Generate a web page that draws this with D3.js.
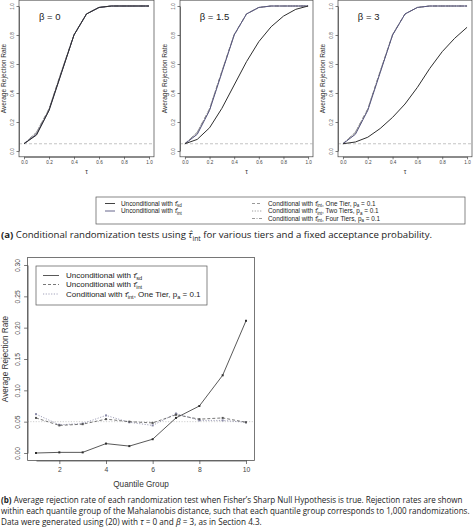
<!DOCTYPE html>
<html><head><meta charset="utf-8">
<script src="https://cdn.jsdelivr.net/npm/d3@7"></script>
<style>body{margin:0;background:#fff}svg{display:block}</style>
</head><body>
<svg id="c" width="474" height="529"></svg>
<script>
// ---------- data: top panels ----------
const tau = [0, 0.1, 0.2, 0.3, 0.4, 0.5, 0.6, 0.7, 0.8, 0.9, 1.0];
const betaLabels = ["β = 0", "β = 1.5", "β = 3"];
const tauTicks = [0, 0.2, 0.4, 0.6, 0.8, 1.0];
const rateTicks = [0, 0.2, 0.4, 0.6, 0.8, 1.0];
const sdBeta0   = [0.05, 0.11, 0.28, 0.54, 0.80, 0.945, 0.99, 1, 1, 1, 1];
const sdBeta15  = [0.05, 0.08, 0.16, 0.294, 0.455, 0.616, 0.754, 0.857, 0.93, 0.977, 1.0];
const sdBeta3   = [0.05, 0.062, 0.095, 0.155, 0.232, 0.324, 0.439, 0.57, 0.685, 0.777, 0.853];
const intAll    = [0.05, 0.115, 0.28, 0.54, 0.80, 0.945, 0.99, 1, 1, 1, 1];
const cond1All  = [0.05, 0.128, 0.29, 0.55, 0.80, 0.945, 0.99, 1, 1, 1, 1];
const cond2All  = [0.05, 0.12, 0.285, 0.545, 0.80, 0.945, 0.99, 1, 1, 1, 1];
const cond4All  = [0.05, 0.13, 0.29, 0.55, 0.805, 0.945, 0.99, 1, 1, 1, 1];
const nullRate = 0.05;

// ---------- data: bottom panel ----------
const quantileGroups = [1, 2, 3, 4, 5, 6, 7, 8, 9, 10];
const qTicks = [2, 4, 6, 8, 10];
const bRateTicks = [0, 0.05, 0.10, 0.15, 0.20, 0.25, 0.30];
const qSd   = [0.000, 0.001, 0.001, 0.015, 0.011, 0.022, 0.056, 0.075, 0.124, 0.211];
const qInt  = [0.056, 0.044, 0.046, 0.054, 0.050, 0.048, 0.061, 0.054, 0.056, 0.049];
const qCond = [0.062, 0.045, 0.047, 0.060, 0.049, 0.044, 0.063, 0.052, 0.052, 0.049];

// ---------- drawing ----------
const svg = d3.select("#c");
const AX = "'Liberation Sans', Arial, Helvetica, sans-serif";
const CAP = "'Open Sans', 'Noto Sans', sans-serif";
const C_SD = "#2e2e2e", C_INT = "#56557f", C_COND = "#8f8f8f";

const panelBoxes = [[19, 154], [180, 313], [338, 472]];
const sdSets = [sdBeta0, sdBeta15, sdBeta3];

function styleAxis(g, fs) {
  g.selectAll("path.domain").attr("stroke", "#444").attr("stroke-width", 0.7);
  g.selectAll(".tick line").attr("stroke", "#444").attr("stroke-width", 0.7);
  g.selectAll("text").attr("font-family", AX).attr("font-size", fs).attr("fill", "#444");
}

panelBoxes.forEach((b, i) => {
  const pad = (b[1] - b[0]) * 0.04 / 1.08;
  const x = d3.scaleLinear().domain([0, 1]).range([b[0] + pad, b[1] - pad]);
  const y = d3.scaleLinear().domain([0, 1]).range([151, 6]);
  const g = svg.append("g");
  const top = y(1.04), bot = y(-0.04);
  g.append("rect").attr("x", b[0]).attr("y", top).attr("width", b[1] - b[0]).attr("height", bot - top)
    .attr("fill", "none").attr("stroke", "#444").attr("stroke-width", 0.7);
  g.append("line").attr("x1", b[0]).attr("x2", b[1]).attr("y1", y(nullRate)).attr("y2", y(nullRate))
    .attr("stroke", "#aaa").attr("stroke-width", 0.7).attr("stroke-dasharray", "3,2");
  const line = d3.line().x((d, k) => x(tau[k])).y(d => y(d));
  [[cond1All, "4,2.5"], [cond2All, "1.2,1.5"], [cond4All, "4,1.5,1,1.5"]].forEach(([s, da]) => {
    g.append("path").attr("d", line(s)).attr("fill", "none").attr("stroke", C_COND)
      .attr("stroke-width", 0.9).attr("stroke-dasharray", da);
  });
  g.append("path").attr("d", line(intAll)).attr("fill", "none").attr("stroke", C_INT).attr("stroke-width", 1);
  g.append("path").attr("d", line(sdSets[i])).attr("fill", "none").attr("stroke", C_SD).attr("stroke-width", 1);

  const xa = g.append("g").attr("transform", `translate(0,${bot})`)
    .call(d3.axisBottom(x).tickValues(tauTicks).tickFormat(d3.format(".1f")).tickSize(2.5).tickSizeOuter(0).tickPadding(1.8));
  styleAxis(xa, 4.6);
  const ya = g.append("g").attr("transform", `translate(${b[0]},0)`)
    .call(d3.axisLeft(y).tickValues(rateTicks).tickFormat(d3.format(".1f")).tickSize(2.5).tickSizeOuter(0));
  styleAxis(ya, 4.6);
  ya.selectAll("text").attr("x", null).attr("dy", null).attr("text-anchor", "middle")
    .attr("transform", "translate(-5,0) rotate(-90)");
  g.append("text").attr("transform", `translate(${b[0] - 13},${(top + bot) / 2}) rotate(-90)`)
    .attr("text-anchor", "middle").attr("font-family", AX).attr("font-size", 6.6).attr("fill", "#333")
    .text("Average Rejection Rate");
  g.append("text").attr("x", (b[0] + b[1]) / 2).attr("y", 174).attr("text-anchor", "middle")
    .attr("font-family", AX).attr("font-size", 6.5).attr("fill", "#333").text("τ");
  g.append("text").attr("x", x(0.12)).attr("y", 19.5).attr("font-family", AX).attr("font-size", 9.5)
    .attr("fill", "#222").text(betaLabels[i]);
});

// subscript helpers (dy based)
function sub(t, s) {
  t.append("tspan").attr("class", "s").attr("dy", "0.4em").attr("font-size", "70%").text(s);
}
function after(t, s) {
  t.append("tspan").attr("dy", "-0.28em").text(s);
}
function tauHat(t, s) {
  t.append("tspan").attr("font-style", "italic").text("τ̂");
  sub(t, s);
}

// ---------- top legend ----------
{
  const g = svg.append("g");
  g.append("rect").attr("x", 96).attr("y", 197).attr("width", 369).attr("height", 27)
    .attr("fill", "#fff").attr("stroke", "#555").attr("stroke-width", 0.7);
  const fs = 6.4;
  const items = [
    {x: 105, y: 203.5, c: C_SD, da: null, pre: "Unconditional with ", sub: "sd", post: ""},
    {x: 105, y: 211, c: C_INT, da: null, pre: "Unconditional with ", sub: "int", post: ""},
    {x: 252, y: 203.5, c: C_COND, da: "3,2", pre: "Conditional with ", sub: "int", post: ", One Tier, "},
    {x: 252, y: 211, c: C_COND, da: "1.2,1.5", pre: "Conditional with ", sub: "int", post: ", Two Tiers, "},
    {x: 252, y: 218.5, c: C_COND, da: "3,1.5,1,1.5", pre: "Conditional with ", sub: "int", post: ", Four Tiers, "}
  ];
  items.forEach(it => {
    g.append("line").attr("x1", it.x).attr("x2", it.x + 10).attr("y1", it.y).attr("y2", it.y)
      .attr("stroke", it.c).attr("stroke-width", 0.9).attr("stroke-dasharray", it.da);
    const t = g.append("text").attr("x", it.x + 16).attr("y", it.y + 2.2)
      .attr("font-family", AX).attr("font-size", fs).attr("fill", "#222");
    t.append("tspan").text(it.pre);
    tauHat(t, it.sub);
    if (it.post) {
      after(t, it.post + "p");
      sub(t, "a");
      after(t, " = 0.1");
    }
  });
}

// ---------- caption fitting ----------
function fitCaption(t, target) {
  const w = t.node().getComputedTextLength();
  const fs = +t.attr("font-size");
  t.attr("font-size", fs * target / w);
}
function capLine(y, label, parts) {
  const t = svg.append("text").attr("x", 1).attr("y", y).attr("font-family", CAP).attr("font-size", 10).attr("fill", "#222");
  if (label) t.append("tspan").attr("font-weight", "bold").text(label);
  parts.forEach(p => {
    if (typeof p === "string") t.append("tspan").text(p);
    else if (p.it) t.append("tspan").attr("font-style", "italic").text(p.it);
    else if (p.sub) sub(t, p.sub);
    else after(t, p.after);
  });
  return t;
}
fitCaption(capLine(238, "(a) ", ["Conditional randomization tests using ", {it: "τ̂"}, {sub: "int"}, {after: " for various tiers and a fixed acceptance probability."}]), 432);

// ---------- bottom panel ----------
{
  const x = d3.scaleLinear().domain([1, 10]).range([36, 246]);
  const y = d3.scaleLinear().domain([0, 0.30]).range([453, 265]);
  const L = x(1 - 0.36), R = x(10 + 0.36), T = y(0.312), B = y(-0.012);
  const g = svg.append("g");
  g.append("rect").attr("x", L).attr("y", T).attr("width", R - L).attr("height", B - T)
    .attr("fill", "none").attr("stroke", "#555").attr("stroke-width", 0.8);
  g.append("line").attr("x1", L).attr("x2", R).attr("y1", y(nullRate)).attr("y2", y(nullRate))
    .attr("stroke", "#c4c4c4").attr("stroke-width", 0.8).attr("stroke-dasharray", "1.2,1.5");
  const line = d3.line().x((d, k) => x(quantileGroups[k])).y(d => y(d));
  [[qCond, "#8a8aa8", "1.2,1.5"], [qInt, "#555", "3,2"], [qSd, "#2e2e2e", null]].forEach(([s, c, da]) => {
    g.append("path").attr("d", line(s)).attr("fill", "none").attr("stroke", c).attr("stroke-width", 0.8)
      .attr("stroke-dasharray", da);
    g.selectAll(null).data(s).enter().append("rect")
      .attr("x", (d, k) => x(quantileGroups[k]) - 1).attr("y", d => y(d) - 1)
      .attr("width", 2).attr("height", 2).attr("fill", c);
  });
  const xa = g.append("g").attr("transform", `translate(0,${B})`)
    .call(d3.axisBottom(x).tickValues(qTicks).tickSize(3.5).tickSizeOuter(0).tickPadding(3.5));
  styleAxis(xa, 6.8);
  const ya = g.append("g").attr("transform", `translate(${L},0)`)
    .call(d3.axisLeft(y).tickValues(bRateTicks).tickFormat(d3.format(".2f")).tickSize(3.5).tickSizeOuter(0));
  styleAxis(ya, 6.8);
  ya.selectAll("text").attr("x", null).attr("dy", null).attr("text-anchor", "middle")
    .attr("transform", "translate(-8,0) rotate(-90)");
  g.append("text").attr("transform", `translate(8,${(T + B) / 2}) rotate(-90)`).attr("text-anchor", "middle")
    .attr("font-family", AX).attr("font-size", 8.2).attr("fill", "#333").text("Average Rejection Rate");
  g.append("text").attr("x", (L + R) / 2).attr("y", 487).attr("text-anchor", "middle")
    .attr("font-family", AX).attr("font-size", 8.2).attr("fill", "#333").text("Quantile Group");

  // legend
  const lg = svg.append("g");
  lg.append("rect").attr("x", 36).attr("y", 266).attr("width", 171).attr("height", 39)
    .attr("fill", "#fff").attr("stroke", "#555").attr("stroke-width", 0.7);
  const fs = 8;
  const items = [
    {y: 275.5, c: "#2e2e2e", da: null, pre: "Unconditional with ", sub: "sd", post: false},
    {y: 284.5, c: "#555", da: "3,2", pre: "Unconditional with ", sub: "int", post: false},
    {y: 294, c: "#8a8aa8", da: "1.2,1.5", pre: "Conditional with ", sub: "int", post: true}
  ];
  items.forEach(it => {
    lg.append("line").attr("x1", 43).attr("x2", 59).attr("y1", it.y).attr("y2", it.y)
      .attr("stroke", it.c).attr("stroke-width", 0.8).attr("stroke-dasharray", it.da);
    const t = lg.append("text").attr("x", 66).attr("y", it.y + 2.6)
      .attr("font-family", AX).attr("font-size", fs).attr("fill", "#222");
    t.append("tspan").text(it.pre);
    tauHat(t, it.sub);
    if (it.post) {
      after(t, ", One Tier, p");
      sub(t, "a");
      after(t, " = 0.1");
    }
  });
}

fitCaption(capLine(503, "(b) ", ["Average rejection rate of each randomization test when Fisher’s Sharp Null Hypothesis is true. Rejection rates are shown"]), 462);
fitCaption(capLine(514, null, ["within each quantile group of the Mahalanobis distance, such that each quantile group corresponds to 1,000 randomizations."]), 469);
fitCaption(capLine(525, null, ["Data were generated using (20) with ", {it: "τ"}, " = 0 and ", {it: "β"}, " = 3, as in Section 4.3."]), 261);
</script>
</body></html>
